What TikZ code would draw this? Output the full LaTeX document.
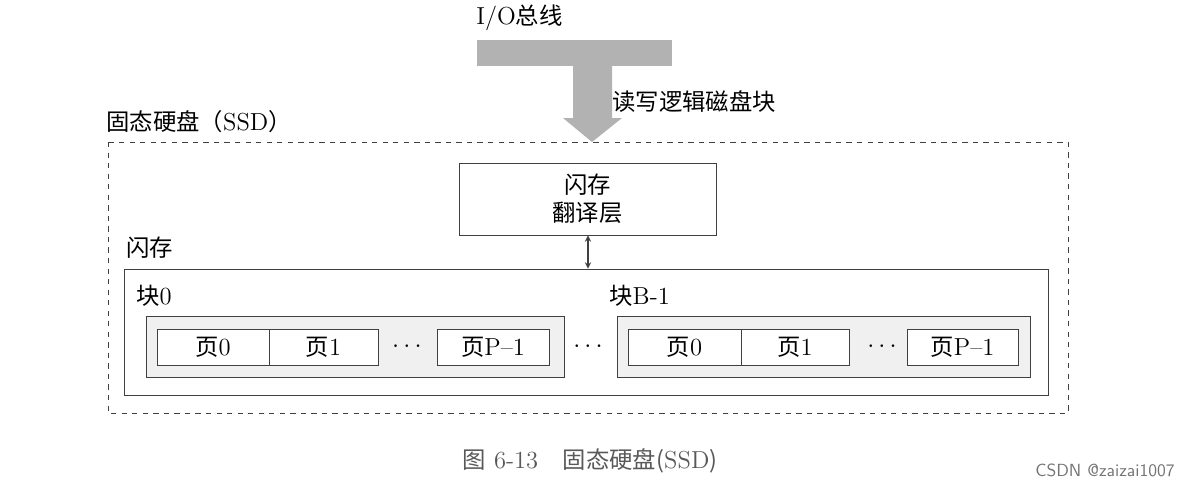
\documentclass[tikz,border=0pt]{standalone}
\usepackage{fontspec}
\newfontfamily\cjk{Noto Sans CJK SC}[Scale=0.95]
\begin{document}
\begin{tikzpicture}[x=0.02cm,y=-0.02cm,
  lbl/.style={font=\fontsize{14}{16}\selectfont, inner sep=0pt},
  pagebox/.style={draw=black!75, fill=white, line width=0.5pt},
  blockbox/.style={draw=black!75, fill=black!6, line width=0.5pt},
  plain/.style={draw=black!75, line width=0.5pt}]
\useasboundingbox (0,0) rectangle (1195,488);
% bus arrow
\fill[black!30] (477,40) rectangle (672,66);
\fill[black!30] (573,66) -- (612,66) -- (612,118) -- (622,118) -- (592,142) -- (563,118) -- (573,118) -- cycle;
\node[lbl, anchor=west] (bus) at (476,18) {I/O{\cjk 总线}};
\node[lbl, anchor=west] (rw) at (612,102) {\cjk 读写逻辑磁盘块};
\node[lbl, anchor=west] (ssdl) at (106,122) {{\cjk 固态硬盘（}SSD{\cjk ）}};
% ssd
\draw[dashed, black!75, line width=0.5pt] (108,142) rectangle (1068,413);
\node[plain, minimum width=257*0.02cm, minimum height=72*0.02cm, lbl, align=center] (ftl) at (587.5,199) {\cjk 闪存\\[0pt]\cjk 翻译层};
% flash
\node[lbl, anchor=west] (flashl) at (126,248) {\cjk 闪存};
\node[plain, minimum width=924*0.02cm, minimum height=126*0.02cm, inner sep=0pt] (flash) at (586,332) {};
\draw[<->, >=stealth, black!75, line width=0.6pt] (ftl.south -| 588,0) -- (flash.north -| 588,0);
% block 0
\node[lbl, anchor=west] (b0l) at (136,296) {{\cjk 块}0};
\node[blockbox, minimum width=418*0.02cm, minimum height=61*0.02cm, inner sep=0pt] (b0) at (355,346.5) {};
\node[pagebox, lbl, minimum width=112*0.02cm, minimum height=36*0.02cm] (p00) at (213,347) {{\cjk 页}0};
\node[pagebox, lbl, minimum width=109*0.02cm, minimum height=36*0.02cm] (p01) at (323.5,347) {{\cjk 页}1};
\node[lbl] (d0) at (407,347) {$\cdots$};
\node[pagebox, lbl, minimum width=112*0.02cm, minimum height=36*0.02cm] (p0p) at (493,347) {{\cjk 页}P--1};
\node[lbl] (dm) at (588,347) {$\cdots$};
% block B-1
\node[lbl, anchor=west] (b1l) at (609,296) {{\cjk 块}B-1};
\node[blockbox, minimum width=413*0.02cm, minimum height=61*0.02cm, inner sep=0pt] (b1) at (823.5,346.5) {};
\node[pagebox, lbl, minimum width=113*0.02cm, minimum height=36*0.02cm] (p10) at (684.5,347) {{\cjk 页}0};
\node[pagebox, lbl, minimum width=108*0.02cm, minimum height=36*0.02cm] (p11) at (795,347) {{\cjk 页}1};
\node[lbl] (d1) at (882,347) {$\cdots$};
\node[pagebox, lbl, minimum width=111*0.02cm, minimum height=36*0.02cm] (p1p) at (962.5,347) {{\cjk 页}P--1};
% caption
\node[lbl, text=black!65] (cap) at (590,461) {{\cjk 图} 6-13\quad{\cjk 固态硬盘(}SSD{\cjk )}};
\node[font=\fontsize{10}{12}\selectfont\sffamily, text=black!55, inner sep=0pt] (csdn) at (1105,470) {CSDN @zaizai1007};
\end{tikzpicture}
\end{document}
